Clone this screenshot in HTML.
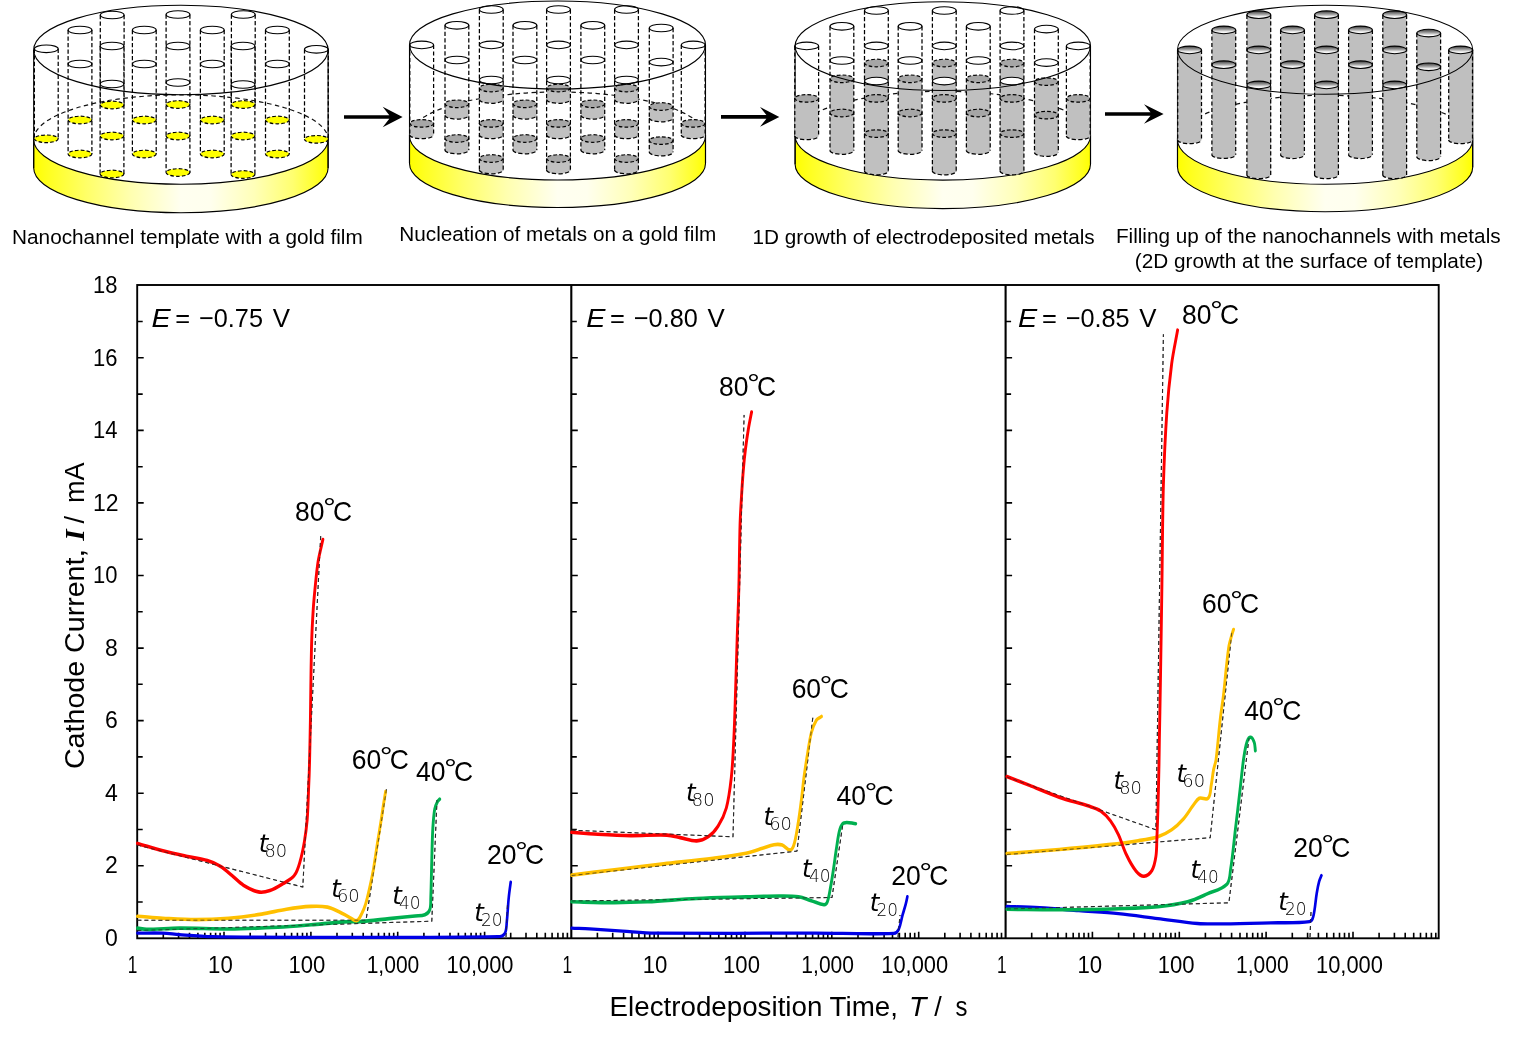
<!DOCTYPE html>
<html><head><meta charset="utf-8"><title>Electrodeposition in nanochannels</title>
<style>html,body{margin:0;padding:0;background:#fff;} svg{display:block;}</style>
</head><body>
<svg width="1519" height="1039" viewBox="0 0 1519 1039" font-family="'Liberation Sans', 'IPAGothic', sans-serif">
<defs>
<linearGradient id="goldg" x1="0" y1="0" x2="1" y2="0">
<stop offset="0" stop-color="#ffff00"/><stop offset="0.05" stop-color="#ffff20"/><stop offset="0.18" stop-color="#ffff68"/><stop offset="0.33" stop-color="#ffffb0"/><stop offset="0.5" stop-color="#fffff0"/><stop offset="0.6" stop-color="#ffffee"/><stop offset="0.75" stop-color="#ffffb8"/><stop offset="0.88" stop-color="#ffff70"/><stop offset="0.97" stop-color="#ffff20"/><stop offset="1" stop-color="#ffff00"/>
</linearGradient>
<linearGradient id="capg" x1="0" y1="0" x2="0" y2="1">
<stop offset="0" stop-color="#3a3a3a"/><stop offset="0.45" stop-color="#a0a0a0"/><stop offset="0.8" stop-color="#ffffff"/><stop offset="1" stop-color="#d8d8d8"/>
</linearGradient>
</defs>
<rect width="1519" height="1039" fill="#fff"/>
<path d="M33.70,139.50 A147.20,44.70 0 0 0 328.10,139.50 L328.10,168.00 A147.20,44.70 0 0 1 33.70,168.00 Z" fill="url(#goldg)" stroke="#000" stroke-width="1.1"/>
<path d="M33.70,139.50 A147.20,44.70 0 0 1 328.10,139.50" fill="none" stroke="#111" stroke-width="1.2" stroke-dasharray="4.5 3.5"/>
<path d="M33.70,50.00 V168.00 M328.10,50.00 V168.00" stroke="#000" stroke-width="1.1" fill="none"/>
<ellipse cx="178.00" cy="104.50" rx="11.9" ry="3.8" fill="#ffff00" stroke="#000" stroke-width="1.2" stroke-dasharray="3.6 2.1"/>
<ellipse cx="178.00" cy="14.50" rx="11.9" ry="3.8" fill="#fff" stroke="#000" stroke-width="1.1"/>
<ellipse cx="243.30" cy="104.50" rx="11.9" ry="3.8" fill="#ffff00" stroke="#000" stroke-width="1.2" stroke-dasharray="3.6 2.1"/>
<ellipse cx="243.30" cy="14.50" rx="11.9" ry="3.8" fill="#fff" stroke="#000" stroke-width="1.1"/>
<ellipse cx="112.20" cy="105.00" rx="11.9" ry="3.8" fill="#ffff00" stroke="#000" stroke-width="1.2" stroke-dasharray="3.6 2.1"/>
<ellipse cx="112.20" cy="15.00" rx="11.9" ry="3.8" fill="#fff" stroke="#000" stroke-width="1.1"/>
<ellipse cx="80.00" cy="120.00" rx="11.9" ry="3.8" fill="#ffff00" stroke="#000" stroke-width="1.2" stroke-dasharray="3.6 2.1"/>
<ellipse cx="80.00" cy="30.00" rx="11.9" ry="3.8" fill="#fff" stroke="#000" stroke-width="1.1"/>
<ellipse cx="144.30" cy="120.00" rx="11.9" ry="3.8" fill="#ffff00" stroke="#000" stroke-width="1.2" stroke-dasharray="3.6 2.1"/>
<ellipse cx="144.30" cy="30.00" rx="11.9" ry="3.8" fill="#fff" stroke="#000" stroke-width="1.1"/>
<ellipse cx="212.30" cy="120.00" rx="11.9" ry="3.8" fill="#ffff00" stroke="#000" stroke-width="1.2" stroke-dasharray="3.6 2.1"/>
<ellipse cx="212.30" cy="30.00" rx="11.9" ry="3.8" fill="#fff" stroke="#000" stroke-width="1.1"/>
<ellipse cx="277.40" cy="120.00" rx="11.9" ry="3.8" fill="#ffff00" stroke="#000" stroke-width="1.2" stroke-dasharray="3.6 2.1"/>
<ellipse cx="277.40" cy="30.00" rx="11.9" ry="3.8" fill="#fff" stroke="#000" stroke-width="1.1"/>
<ellipse cx="112.00" cy="136.00" rx="11.9" ry="3.8" fill="#ffff00" stroke="#000" stroke-width="1.2" stroke-dasharray="3.6 2.1"/>
<ellipse cx="112.00" cy="46.00" rx="11.9" ry="3.8" fill="#fff" stroke="#000" stroke-width="1.1"/>
<ellipse cx="178.00" cy="136.00" rx="11.9" ry="3.8" fill="#ffff00" stroke="#000" stroke-width="1.2" stroke-dasharray="3.6 2.1"/>
<ellipse cx="178.00" cy="46.00" rx="11.9" ry="3.8" fill="#fff" stroke="#000" stroke-width="1.1"/>
<ellipse cx="243.00" cy="136.00" rx="11.9" ry="3.8" fill="#ffff00" stroke="#000" stroke-width="1.2" stroke-dasharray="3.6 2.1"/>
<ellipse cx="243.00" cy="46.00" rx="11.9" ry="3.8" fill="#fff" stroke="#000" stroke-width="1.1"/>
<ellipse cx="46.30" cy="138.80" rx="11.9" ry="3.8" fill="#ffff00" stroke="#000" stroke-width="1.2" stroke-dasharray="3.6 2.1"/>
<ellipse cx="46.30" cy="48.80" rx="11.9" ry="3.8" fill="#fff" stroke="#000" stroke-width="1.1"/>
<ellipse cx="316.40" cy="139.30" rx="11.9" ry="3.8" fill="#ffff00" stroke="#000" stroke-width="1.2" stroke-dasharray="3.6 2.1"/>
<ellipse cx="316.40" cy="49.30" rx="11.9" ry="3.8" fill="#fff" stroke="#000" stroke-width="1.1"/>
<ellipse cx="80.00" cy="154.00" rx="11.9" ry="3.8" fill="#ffff00" stroke="#000" stroke-width="1.2" stroke-dasharray="3.6 2.1"/>
<ellipse cx="80.00" cy="64.00" rx="11.9" ry="3.8" fill="#fff" stroke="#000" stroke-width="1.1"/>
<ellipse cx="144.30" cy="154.00" rx="11.9" ry="3.8" fill="#ffff00" stroke="#000" stroke-width="1.2" stroke-dasharray="3.6 2.1"/>
<ellipse cx="144.30" cy="64.00" rx="11.9" ry="3.8" fill="#fff" stroke="#000" stroke-width="1.1"/>
<ellipse cx="212.30" cy="154.00" rx="11.9" ry="3.8" fill="#ffff00" stroke="#000" stroke-width="1.2" stroke-dasharray="3.6 2.1"/>
<ellipse cx="212.30" cy="64.00" rx="11.9" ry="3.8" fill="#fff" stroke="#000" stroke-width="1.1"/>
<ellipse cx="277.40" cy="154.00" rx="11.9" ry="3.8" fill="#ffff00" stroke="#000" stroke-width="1.2" stroke-dasharray="3.6 2.1"/>
<ellipse cx="277.40" cy="64.00" rx="11.9" ry="3.8" fill="#fff" stroke="#000" stroke-width="1.1"/>
<ellipse cx="178.00" cy="172.50" rx="11.9" ry="3.8" fill="#ffff00" stroke="#000" stroke-width="1.2" stroke-dasharray="3.6 2.1"/>
<ellipse cx="178.00" cy="82.50" rx="11.9" ry="3.8" fill="#fff" stroke="#000" stroke-width="1.1"/>
<ellipse cx="112.00" cy="174.00" rx="11.9" ry="3.8" fill="#ffff00" stroke="#000" stroke-width="1.2" stroke-dasharray="3.6 2.1"/>
<ellipse cx="112.00" cy="84.00" rx="11.9" ry="3.8" fill="#fff" stroke="#000" stroke-width="1.1"/>
<ellipse cx="243.00" cy="174.50" rx="11.9" ry="3.8" fill="#ffff00" stroke="#000" stroke-width="1.2" stroke-dasharray="3.6 2.1"/>
<ellipse cx="243.00" cy="84.50" rx="11.9" ry="3.8" fill="#fff" stroke="#000" stroke-width="1.1"/>
<path d="M100.30,15.00 V105.00 M124.10,15.00 V105.00 M166.10,14.50 V172.50 M189.90,14.50 V172.50 M231.40,14.50 V104.50 M255.20,14.50 V104.50 M68.10,30.00 V154.00 M91.90,30.00 V154.00 M132.40,30.00 V154.00 M156.20,30.00 V154.00 M200.40,30.00 V154.00 M224.20,30.00 V154.00 M265.50,30.00 V154.00 M289.30,30.00 V154.00 M34.40,48.80 V138.80 M58.20,48.80 V138.80 M100.10,46.00 V174.00 M123.90,46.00 V174.00 M231.10,46.00 V174.50 M254.90,46.00 V174.50 M304.50,49.30 V139.30 M328.30,49.30 V139.30" stroke="#000" stroke-width="1.25" stroke-dasharray="4.2 2.3" fill="none"/>
<ellipse cx="180.90" cy="50.00" rx="147.20" ry="44.70" fill="none" stroke="#000" stroke-width="1.1"/>
<path d="M409.50,136.00 A148.00,44.00 0 0 0 705.50,136.00 L705.50,163.50 A148.00,44.00 0 0 1 409.50,163.50 Z" fill="url(#goldg)" stroke="#000" stroke-width="1.1"/>
<path d="M409.50,136.00 A148.00,44.00 0 0 1 705.50,136.00" fill="none" stroke="#111" stroke-width="1.2" stroke-dasharray="4.5 3.5"/>
<path d="M409.50,45.00 V163.50 M705.50,45.00 V163.50" stroke="#000" stroke-width="1.1" fill="none"/>
<path d="M479.40,88.00 V99.50 A11.9,3.8 0 0 0 503.20,99.50 V88.00 Z" fill="#c0c0c0" stroke="none"/>
<path d="M479.40,99.50 A11.9,3.8 0 0 0 503.20,99.50" stroke="#000" stroke-width="1.25" stroke-dasharray="4.2 2.3" fill="none"/>
<ellipse cx="491.30" cy="88.00" rx="11.9" ry="3.8" fill="#a6a6a6" stroke="#000" stroke-width="1.2" stroke-dasharray="3.6 2.1"/>
<ellipse cx="491.30" cy="9.50" rx="11.9" ry="3.8" fill="#fff" stroke="#000" stroke-width="1.1"/>
<path d="M546.60,88.00 V99.50 A11.9,3.8 0 0 0 570.40,99.50 V88.00 Z" fill="#c0c0c0" stroke="none"/>
<path d="M546.60,99.50 A11.9,3.8 0 0 0 570.40,99.50" stroke="#000" stroke-width="1.25" stroke-dasharray="4.2 2.3" fill="none"/>
<ellipse cx="558.50" cy="88.00" rx="11.9" ry="3.8" fill="#a6a6a6" stroke="#000" stroke-width="1.2" stroke-dasharray="3.6 2.1"/>
<ellipse cx="558.50" cy="9.50" rx="11.9" ry="3.8" fill="#fff" stroke="#000" stroke-width="1.1"/>
<path d="M614.60,88.00 V99.50 A11.9,3.8 0 0 0 638.40,99.50 V88.00 Z" fill="#c0c0c0" stroke="none"/>
<path d="M614.60,99.50 A11.9,3.8 0 0 0 638.40,99.50" stroke="#000" stroke-width="1.25" stroke-dasharray="4.2 2.3" fill="none"/>
<ellipse cx="626.50" cy="88.00" rx="11.9" ry="3.8" fill="#a6a6a6" stroke="#000" stroke-width="1.2" stroke-dasharray="3.6 2.1"/>
<ellipse cx="626.50" cy="9.50" rx="11.9" ry="3.8" fill="#fff" stroke="#000" stroke-width="1.1"/>
<path d="M445.00,103.80 V115.30 A11.9,3.8 0 0 0 468.80,115.30 V103.80 Z" fill="#c0c0c0" stroke="none"/>
<path d="M445.00,115.30 A11.9,3.8 0 0 0 468.80,115.30" stroke="#000" stroke-width="1.25" stroke-dasharray="4.2 2.3" fill="none"/>
<ellipse cx="456.90" cy="103.80" rx="11.9" ry="3.8" fill="#a6a6a6" stroke="#000" stroke-width="1.2" stroke-dasharray="3.6 2.1"/>
<ellipse cx="456.90" cy="25.30" rx="11.9" ry="3.8" fill="#fff" stroke="#000" stroke-width="1.1"/>
<path d="M513.00,103.80 V115.30 A11.9,3.8 0 0 0 536.80,115.30 V103.80 Z" fill="#c0c0c0" stroke="none"/>
<path d="M513.00,115.30 A11.9,3.8 0 0 0 536.80,115.30" stroke="#000" stroke-width="1.25" stroke-dasharray="4.2 2.3" fill="none"/>
<ellipse cx="524.90" cy="103.80" rx="11.9" ry="3.8" fill="#a6a6a6" stroke="#000" stroke-width="1.2" stroke-dasharray="3.6 2.1"/>
<ellipse cx="524.90" cy="25.30" rx="11.9" ry="3.8" fill="#fff" stroke="#000" stroke-width="1.1"/>
<path d="M580.90,103.80 V115.30 A11.9,3.8 0 0 0 604.70,115.30 V103.80 Z" fill="#c0c0c0" stroke="none"/>
<path d="M580.90,115.30 A11.9,3.8 0 0 0 604.70,115.30" stroke="#000" stroke-width="1.25" stroke-dasharray="4.2 2.3" fill="none"/>
<ellipse cx="592.80" cy="103.80" rx="11.9" ry="3.8" fill="#a6a6a6" stroke="#000" stroke-width="1.2" stroke-dasharray="3.6 2.1"/>
<ellipse cx="592.80" cy="25.30" rx="11.9" ry="3.8" fill="#fff" stroke="#000" stroke-width="1.1"/>
<path d="M649.30,106.50 V118.00 A11.9,3.8 0 0 0 673.10,118.00 V106.50 Z" fill="#c0c0c0" stroke="none"/>
<path d="M649.30,118.00 A11.9,3.8 0 0 0 673.10,118.00" stroke="#000" stroke-width="1.25" stroke-dasharray="4.2 2.3" fill="none"/>
<ellipse cx="661.20" cy="106.50" rx="11.9" ry="3.8" fill="#a6a6a6" stroke="#000" stroke-width="1.2" stroke-dasharray="3.6 2.1"/>
<ellipse cx="661.20" cy="28.00" rx="11.9" ry="3.8" fill="#fff" stroke="#000" stroke-width="1.1"/>
<path d="M409.80,123.40 V134.90 A11.9,3.8 0 0 0 433.60,134.90 V123.40 Z" fill="#c0c0c0" stroke="none"/>
<path d="M409.80,134.90 A11.9,3.8 0 0 0 433.60,134.90" stroke="#000" stroke-width="1.25" stroke-dasharray="4.2 2.3" fill="none"/>
<ellipse cx="421.70" cy="123.40" rx="11.9" ry="3.8" fill="#a6a6a6" stroke="#000" stroke-width="1.2" stroke-dasharray="3.6 2.1"/>
<ellipse cx="421.70" cy="44.90" rx="11.9" ry="3.8" fill="#fff" stroke="#000" stroke-width="1.1"/>
<path d="M479.40,123.40 V134.90 A11.9,3.8 0 0 0 503.20,134.90 V123.40 Z" fill="#c0c0c0" stroke="none"/>
<path d="M479.40,134.90 A11.9,3.8 0 0 0 503.20,134.90" stroke="#000" stroke-width="1.25" stroke-dasharray="4.2 2.3" fill="none"/>
<ellipse cx="491.30" cy="123.40" rx="11.9" ry="3.8" fill="#a6a6a6" stroke="#000" stroke-width="1.2" stroke-dasharray="3.6 2.1"/>
<ellipse cx="491.30" cy="44.90" rx="11.9" ry="3.8" fill="#fff" stroke="#000" stroke-width="1.1"/>
<path d="M546.60,123.40 V134.90 A11.9,3.8 0 0 0 570.40,134.90 V123.40 Z" fill="#c0c0c0" stroke="none"/>
<path d="M546.60,134.90 A11.9,3.8 0 0 0 570.40,134.90" stroke="#000" stroke-width="1.25" stroke-dasharray="4.2 2.3" fill="none"/>
<ellipse cx="558.50" cy="123.40" rx="11.9" ry="3.8" fill="#a6a6a6" stroke="#000" stroke-width="1.2" stroke-dasharray="3.6 2.1"/>
<ellipse cx="558.50" cy="44.90" rx="11.9" ry="3.8" fill="#fff" stroke="#000" stroke-width="1.1"/>
<path d="M614.60,123.40 V134.90 A11.9,3.8 0 0 0 638.40,134.90 V123.40 Z" fill="#c0c0c0" stroke="none"/>
<path d="M614.60,134.90 A11.9,3.8 0 0 0 638.40,134.90" stroke="#000" stroke-width="1.25" stroke-dasharray="4.2 2.3" fill="none"/>
<ellipse cx="626.50" cy="123.40" rx="11.9" ry="3.8" fill="#a6a6a6" stroke="#000" stroke-width="1.2" stroke-dasharray="3.6 2.1"/>
<ellipse cx="626.50" cy="44.90" rx="11.9" ry="3.8" fill="#fff" stroke="#000" stroke-width="1.1"/>
<path d="M681.30,123.40 V134.90 A11.9,3.8 0 0 0 705.10,134.90 V123.40 Z" fill="#c0c0c0" stroke="none"/>
<path d="M681.30,134.90 A11.9,3.8 0 0 0 705.10,134.90" stroke="#000" stroke-width="1.25" stroke-dasharray="4.2 2.3" fill="none"/>
<ellipse cx="693.20" cy="123.40" rx="11.9" ry="3.8" fill="#a6a6a6" stroke="#000" stroke-width="1.2" stroke-dasharray="3.6 2.1"/>
<ellipse cx="693.20" cy="44.90" rx="11.9" ry="3.8" fill="#fff" stroke="#000" stroke-width="1.1"/>
<path d="M445.00,138.50 V150.00 A11.9,3.8 0 0 0 468.80,150.00 V138.50 Z" fill="#c0c0c0" stroke="none"/>
<path d="M445.00,150.00 A11.9,3.8 0 0 0 468.80,150.00" stroke="#000" stroke-width="1.25" stroke-dasharray="4.2 2.3" fill="none"/>
<ellipse cx="456.90" cy="138.50" rx="11.9" ry="3.8" fill="#a6a6a6" stroke="#000" stroke-width="1.2" stroke-dasharray="3.6 2.1"/>
<ellipse cx="456.90" cy="60.00" rx="11.9" ry="3.8" fill="#fff" stroke="#000" stroke-width="1.1"/>
<path d="M513.00,138.50 V150.00 A11.9,3.8 0 0 0 536.80,150.00 V138.50 Z" fill="#c0c0c0" stroke="none"/>
<path d="M513.00,150.00 A11.9,3.8 0 0 0 536.80,150.00" stroke="#000" stroke-width="1.25" stroke-dasharray="4.2 2.3" fill="none"/>
<ellipse cx="524.90" cy="138.50" rx="11.9" ry="3.8" fill="#a6a6a6" stroke="#000" stroke-width="1.2" stroke-dasharray="3.6 2.1"/>
<ellipse cx="524.90" cy="60.00" rx="11.9" ry="3.8" fill="#fff" stroke="#000" stroke-width="1.1"/>
<path d="M580.90,138.50 V150.00 A11.9,3.8 0 0 0 604.70,150.00 V138.50 Z" fill="#c0c0c0" stroke="none"/>
<path d="M580.90,150.00 A11.9,3.8 0 0 0 604.70,150.00" stroke="#000" stroke-width="1.25" stroke-dasharray="4.2 2.3" fill="none"/>
<ellipse cx="592.80" cy="138.50" rx="11.9" ry="3.8" fill="#a6a6a6" stroke="#000" stroke-width="1.2" stroke-dasharray="3.6 2.1"/>
<ellipse cx="592.80" cy="60.00" rx="11.9" ry="3.8" fill="#fff" stroke="#000" stroke-width="1.1"/>
<path d="M649.30,140.60 V152.10 A11.9,3.8 0 0 0 673.10,152.10 V140.60 Z" fill="#c0c0c0" stroke="none"/>
<path d="M649.30,152.10 A11.9,3.8 0 0 0 673.10,152.10" stroke="#000" stroke-width="1.25" stroke-dasharray="4.2 2.3" fill="none"/>
<ellipse cx="661.20" cy="140.60" rx="11.9" ry="3.8" fill="#a6a6a6" stroke="#000" stroke-width="1.2" stroke-dasharray="3.6 2.1"/>
<ellipse cx="661.20" cy="62.10" rx="11.9" ry="3.8" fill="#fff" stroke="#000" stroke-width="1.1"/>
<path d="M479.40,158.50 V170.00 A11.9,3.8 0 0 0 503.20,170.00 V158.50 Z" fill="#c0c0c0" stroke="none"/>
<path d="M479.40,170.00 A11.9,3.8 0 0 0 503.20,170.00" stroke="#000" stroke-width="1.25" stroke-dasharray="4.2 2.3" fill="none"/>
<ellipse cx="491.30" cy="158.50" rx="11.9" ry="3.8" fill="#a6a6a6" stroke="#000" stroke-width="1.2" stroke-dasharray="3.6 2.1"/>
<ellipse cx="491.30" cy="80.00" rx="11.9" ry="3.8" fill="#fff" stroke="#000" stroke-width="1.1"/>
<path d="M546.60,158.50 V170.00 A11.9,3.8 0 0 0 570.40,170.00 V158.50 Z" fill="#c0c0c0" stroke="none"/>
<path d="M546.60,170.00 A11.9,3.8 0 0 0 570.40,170.00" stroke="#000" stroke-width="1.25" stroke-dasharray="4.2 2.3" fill="none"/>
<ellipse cx="558.50" cy="158.50" rx="11.9" ry="3.8" fill="#a6a6a6" stroke="#000" stroke-width="1.2" stroke-dasharray="3.6 2.1"/>
<ellipse cx="558.50" cy="80.00" rx="11.9" ry="3.8" fill="#fff" stroke="#000" stroke-width="1.1"/>
<path d="M614.60,158.50 V170.00 A11.9,3.8 0 0 0 638.40,170.00 V158.50 Z" fill="#c0c0c0" stroke="none"/>
<path d="M614.60,170.00 A11.9,3.8 0 0 0 638.40,170.00" stroke="#000" stroke-width="1.25" stroke-dasharray="4.2 2.3" fill="none"/>
<ellipse cx="626.50" cy="158.50" rx="11.9" ry="3.8" fill="#a6a6a6" stroke="#000" stroke-width="1.2" stroke-dasharray="3.6 2.1"/>
<ellipse cx="626.50" cy="80.00" rx="11.9" ry="3.8" fill="#fff" stroke="#000" stroke-width="1.1"/>
<path d="M479.40,9.50 V170.00 M503.20,9.50 V170.00 M546.60,9.50 V170.00 M570.40,9.50 V170.00 M614.60,9.50 V170.00 M638.40,9.50 V170.00 M445.00,25.30 V150.00 M468.80,25.30 V150.00 M513.00,25.30 V150.00 M536.80,25.30 V150.00 M580.90,25.30 V150.00 M604.70,25.30 V150.00 M649.30,28.00 V152.10 M673.10,28.00 V152.10 M409.80,44.90 V134.90 M433.60,44.90 V134.90 M681.30,44.90 V134.90 M705.10,44.90 V134.90" stroke="#000" stroke-width="1.25" stroke-dasharray="4.2 2.3" fill="none"/>
<ellipse cx="557.50" cy="45.00" rx="148.00" ry="44.00" fill="none" stroke="#000" stroke-width="1.1"/>
<path d="M795.10,135.70 A147.70,44.40 0 0 0 1090.50,135.70 L1090.50,164.20 A147.70,44.40 0 0 1 795.10,164.20 Z" fill="url(#goldg)" stroke="#000" stroke-width="1.1"/>
<path d="M795.10,135.70 A147.70,44.40 0 0 1 1090.50,135.70" fill="none" stroke="#111" stroke-width="1.2" stroke-dasharray="4.5 3.5"/>
<path d="M795.10,46.10 V164.20 M1090.50,46.10 V164.20" stroke="#000" stroke-width="1.1" fill="none"/>
<path d="M864.50,63.00 V100.50 A11.9,3.8 0 0 0 888.30,100.50 V63.00 Z" fill="#c0c0c0" stroke="none"/>
<path d="M864.50,100.50 A11.9,3.8 0 0 0 888.30,100.50" stroke="#000" stroke-width="1.25" stroke-dasharray="4.2 2.3" fill="none"/>
<ellipse cx="876.40" cy="63.00" rx="11.9" ry="3.8" fill="#a6a6a6" stroke="#000" stroke-width="1.2" stroke-dasharray="3.6 2.1"/>
<ellipse cx="876.40" cy="10.50" rx="11.9" ry="3.8" fill="#fff" stroke="#000" stroke-width="1.1"/>
<path d="M932.40,63.00 V100.50 A11.9,3.8 0 0 0 956.20,100.50 V63.00 Z" fill="#c0c0c0" stroke="none"/>
<path d="M932.40,100.50 A11.9,3.8 0 0 0 956.20,100.50" stroke="#000" stroke-width="1.25" stroke-dasharray="4.2 2.3" fill="none"/>
<ellipse cx="944.30" cy="63.00" rx="11.9" ry="3.8" fill="#a6a6a6" stroke="#000" stroke-width="1.2" stroke-dasharray="3.6 2.1"/>
<ellipse cx="944.30" cy="10.50" rx="11.9" ry="3.8" fill="#fff" stroke="#000" stroke-width="1.1"/>
<path d="M1000.10,63.00 V100.50 A11.9,3.8 0 0 0 1023.90,100.50 V63.00 Z" fill="#c0c0c0" stroke="none"/>
<path d="M1000.10,100.50 A11.9,3.8 0 0 0 1023.90,100.50" stroke="#000" stroke-width="1.25" stroke-dasharray="4.2 2.3" fill="none"/>
<ellipse cx="1012.00" cy="63.00" rx="11.9" ry="3.8" fill="#a6a6a6" stroke="#000" stroke-width="1.2" stroke-dasharray="3.6 2.1"/>
<ellipse cx="1012.00" cy="10.50" rx="11.9" ry="3.8" fill="#fff" stroke="#000" stroke-width="1.1"/>
<path d="M830.00,78.80 V116.30 A11.9,3.8 0 0 0 853.80,116.30 V78.80 Z" fill="#c0c0c0" stroke="none"/>
<path d="M830.00,116.30 A11.9,3.8 0 0 0 853.80,116.30" stroke="#000" stroke-width="1.25" stroke-dasharray="4.2 2.3" fill="none"/>
<ellipse cx="841.90" cy="78.80" rx="11.9" ry="3.8" fill="#a6a6a6" stroke="#000" stroke-width="1.2" stroke-dasharray="3.6 2.1"/>
<ellipse cx="841.90" cy="26.30" rx="11.9" ry="3.8" fill="#fff" stroke="#000" stroke-width="1.1"/>
<path d="M898.20,78.80 V116.30 A11.9,3.8 0 0 0 922.00,116.30 V78.80 Z" fill="#c0c0c0" stroke="none"/>
<path d="M898.20,116.30 A11.9,3.8 0 0 0 922.00,116.30" stroke="#000" stroke-width="1.25" stroke-dasharray="4.2 2.3" fill="none"/>
<ellipse cx="910.10" cy="78.80" rx="11.9" ry="3.8" fill="#a6a6a6" stroke="#000" stroke-width="1.2" stroke-dasharray="3.6 2.1"/>
<ellipse cx="910.10" cy="26.30" rx="11.9" ry="3.8" fill="#fff" stroke="#000" stroke-width="1.1"/>
<path d="M966.40,78.80 V116.30 A11.9,3.8 0 0 0 990.20,116.30 V78.80 Z" fill="#c0c0c0" stroke="none"/>
<path d="M966.40,116.30 A11.9,3.8 0 0 0 990.20,116.30" stroke="#000" stroke-width="1.25" stroke-dasharray="4.2 2.3" fill="none"/>
<ellipse cx="978.30" cy="78.80" rx="11.9" ry="3.8" fill="#a6a6a6" stroke="#000" stroke-width="1.2" stroke-dasharray="3.6 2.1"/>
<ellipse cx="978.30" cy="26.30" rx="11.9" ry="3.8" fill="#fff" stroke="#000" stroke-width="1.1"/>
<path d="M1034.50,81.60 V119.10 A11.9,3.8 0 0 0 1058.30,119.10 V81.60 Z" fill="#c0c0c0" stroke="none"/>
<path d="M1034.50,119.10 A11.9,3.8 0 0 0 1058.30,119.10" stroke="#000" stroke-width="1.25" stroke-dasharray="4.2 2.3" fill="none"/>
<ellipse cx="1046.40" cy="81.60" rx="11.9" ry="3.8" fill="#a6a6a6" stroke="#000" stroke-width="1.2" stroke-dasharray="3.6 2.1"/>
<ellipse cx="1046.40" cy="29.10" rx="11.9" ry="3.8" fill="#fff" stroke="#000" stroke-width="1.1"/>
<path d="M794.80,98.40 V135.90 A11.9,3.8 0 0 0 818.60,135.90 V98.40 Z" fill="#c0c0c0" stroke="none"/>
<path d="M794.80,135.90 A11.9,3.8 0 0 0 818.60,135.90" stroke="#000" stroke-width="1.25" stroke-dasharray="4.2 2.3" fill="none"/>
<ellipse cx="806.70" cy="98.40" rx="11.9" ry="3.8" fill="#a6a6a6" stroke="#000" stroke-width="1.2" stroke-dasharray="3.6 2.1"/>
<ellipse cx="806.70" cy="45.90" rx="11.9" ry="3.8" fill="#fff" stroke="#000" stroke-width="1.1"/>
<path d="M864.50,98.40 V135.90 A11.9,3.8 0 0 0 888.30,135.90 V98.40 Z" fill="#c0c0c0" stroke="none"/>
<path d="M864.50,135.90 A11.9,3.8 0 0 0 888.30,135.90" stroke="#000" stroke-width="1.25" stroke-dasharray="4.2 2.3" fill="none"/>
<ellipse cx="876.40" cy="98.40" rx="11.9" ry="3.8" fill="#a6a6a6" stroke="#000" stroke-width="1.2" stroke-dasharray="3.6 2.1"/>
<ellipse cx="876.40" cy="45.90" rx="11.9" ry="3.8" fill="#fff" stroke="#000" stroke-width="1.1"/>
<path d="M932.40,98.40 V135.90 A11.9,3.8 0 0 0 956.20,135.90 V98.40 Z" fill="#c0c0c0" stroke="none"/>
<path d="M932.40,135.90 A11.9,3.8 0 0 0 956.20,135.90" stroke="#000" stroke-width="1.25" stroke-dasharray="4.2 2.3" fill="none"/>
<ellipse cx="944.30" cy="98.40" rx="11.9" ry="3.8" fill="#a6a6a6" stroke="#000" stroke-width="1.2" stroke-dasharray="3.6 2.1"/>
<ellipse cx="944.30" cy="45.90" rx="11.9" ry="3.8" fill="#fff" stroke="#000" stroke-width="1.1"/>
<path d="M1000.10,98.40 V135.90 A11.9,3.8 0 0 0 1023.90,135.90 V98.40 Z" fill="#c0c0c0" stroke="none"/>
<path d="M1000.10,135.90 A11.9,3.8 0 0 0 1023.90,135.90" stroke="#000" stroke-width="1.25" stroke-dasharray="4.2 2.3" fill="none"/>
<ellipse cx="1012.00" cy="98.40" rx="11.9" ry="3.8" fill="#a6a6a6" stroke="#000" stroke-width="1.2" stroke-dasharray="3.6 2.1"/>
<ellipse cx="1012.00" cy="45.90" rx="11.9" ry="3.8" fill="#fff" stroke="#000" stroke-width="1.1"/>
<path d="M1066.40,98.40 V135.90 A11.9,3.8 0 0 0 1090.20,135.90 V98.40 Z" fill="#c0c0c0" stroke="none"/>
<path d="M1066.40,135.90 A11.9,3.8 0 0 0 1090.20,135.90" stroke="#000" stroke-width="1.25" stroke-dasharray="4.2 2.3" fill="none"/>
<ellipse cx="1078.30" cy="98.40" rx="11.9" ry="3.8" fill="#a6a6a6" stroke="#000" stroke-width="1.2" stroke-dasharray="3.6 2.1"/>
<ellipse cx="1078.30" cy="45.90" rx="11.9" ry="3.8" fill="#fff" stroke="#000" stroke-width="1.1"/>
<path d="M830.00,113.00 V150.50 A11.9,3.8 0 0 0 853.80,150.50 V113.00 Z" fill="#c0c0c0" stroke="none"/>
<path d="M830.00,150.50 A11.9,3.8 0 0 0 853.80,150.50" stroke="#000" stroke-width="1.25" stroke-dasharray="4.2 2.3" fill="none"/>
<ellipse cx="841.90" cy="113.00" rx="11.9" ry="3.8" fill="#a6a6a6" stroke="#000" stroke-width="1.2" stroke-dasharray="3.6 2.1"/>
<ellipse cx="841.90" cy="60.50" rx="11.9" ry="3.8" fill="#fff" stroke="#000" stroke-width="1.1"/>
<path d="M898.20,113.00 V150.50 A11.9,3.8 0 0 0 922.00,150.50 V113.00 Z" fill="#c0c0c0" stroke="none"/>
<path d="M898.20,150.50 A11.9,3.8 0 0 0 922.00,150.50" stroke="#000" stroke-width="1.25" stroke-dasharray="4.2 2.3" fill="none"/>
<ellipse cx="910.10" cy="113.00" rx="11.9" ry="3.8" fill="#a6a6a6" stroke="#000" stroke-width="1.2" stroke-dasharray="3.6 2.1"/>
<ellipse cx="910.10" cy="60.50" rx="11.9" ry="3.8" fill="#fff" stroke="#000" stroke-width="1.1"/>
<path d="M966.40,113.00 V150.50 A11.9,3.8 0 0 0 990.20,150.50 V113.00 Z" fill="#c0c0c0" stroke="none"/>
<path d="M966.40,150.50 A11.9,3.8 0 0 0 990.20,150.50" stroke="#000" stroke-width="1.25" stroke-dasharray="4.2 2.3" fill="none"/>
<ellipse cx="978.30" cy="113.00" rx="11.9" ry="3.8" fill="#a6a6a6" stroke="#000" stroke-width="1.2" stroke-dasharray="3.6 2.1"/>
<ellipse cx="978.30" cy="60.50" rx="11.9" ry="3.8" fill="#fff" stroke="#000" stroke-width="1.1"/>
<path d="M1034.50,115.10 V152.60 A11.9,3.8 0 0 0 1058.30,152.60 V115.10 Z" fill="#c0c0c0" stroke="none"/>
<path d="M1034.50,152.60 A11.9,3.8 0 0 0 1058.30,152.60" stroke="#000" stroke-width="1.25" stroke-dasharray="4.2 2.3" fill="none"/>
<ellipse cx="1046.40" cy="115.10" rx="11.9" ry="3.8" fill="#a6a6a6" stroke="#000" stroke-width="1.2" stroke-dasharray="3.6 2.1"/>
<ellipse cx="1046.40" cy="62.60" rx="11.9" ry="3.8" fill="#fff" stroke="#000" stroke-width="1.1"/>
<path d="M864.50,133.60 V171.10 A11.9,3.8 0 0 0 888.30,171.10 V133.60 Z" fill="#c0c0c0" stroke="none"/>
<path d="M864.50,171.10 A11.9,3.8 0 0 0 888.30,171.10" stroke="#000" stroke-width="1.25" stroke-dasharray="4.2 2.3" fill="none"/>
<ellipse cx="876.40" cy="133.60" rx="11.9" ry="3.8" fill="#a6a6a6" stroke="#000" stroke-width="1.2" stroke-dasharray="3.6 2.1"/>
<ellipse cx="876.40" cy="81.10" rx="11.9" ry="3.8" fill="#fff" stroke="#000" stroke-width="1.1"/>
<path d="M932.40,133.60 V171.10 A11.9,3.8 0 0 0 956.20,171.10 V133.60 Z" fill="#c0c0c0" stroke="none"/>
<path d="M932.40,171.10 A11.9,3.8 0 0 0 956.20,171.10" stroke="#000" stroke-width="1.25" stroke-dasharray="4.2 2.3" fill="none"/>
<ellipse cx="944.30" cy="133.60" rx="11.9" ry="3.8" fill="#a6a6a6" stroke="#000" stroke-width="1.2" stroke-dasharray="3.6 2.1"/>
<ellipse cx="944.30" cy="81.10" rx="11.9" ry="3.8" fill="#fff" stroke="#000" stroke-width="1.1"/>
<path d="M1000.10,133.60 V171.10 A11.9,3.8 0 0 0 1023.90,171.10 V133.60 Z" fill="#c0c0c0" stroke="none"/>
<path d="M1000.10,171.10 A11.9,3.8 0 0 0 1023.90,171.10" stroke="#000" stroke-width="1.25" stroke-dasharray="4.2 2.3" fill="none"/>
<ellipse cx="1012.00" cy="133.60" rx="11.9" ry="3.8" fill="#a6a6a6" stroke="#000" stroke-width="1.2" stroke-dasharray="3.6 2.1"/>
<ellipse cx="1012.00" cy="81.10" rx="11.9" ry="3.8" fill="#fff" stroke="#000" stroke-width="1.1"/>
<path d="M864.50,10.50 V171.10 M888.30,10.50 V171.10 M932.40,10.50 V171.10 M956.20,10.50 V171.10 M1000.10,10.50 V171.10 M1023.90,10.50 V171.10 M830.00,26.30 V150.50 M853.80,26.30 V150.50 M898.20,26.30 V150.50 M922.00,26.30 V150.50 M966.40,26.30 V150.50 M990.20,26.30 V150.50 M1034.50,29.10 V152.60 M1058.30,29.10 V152.60 M794.80,45.90 V135.90 M818.60,45.90 V135.90 M1066.40,45.90 V135.90 M1090.20,45.90 V135.90" stroke="#000" stroke-width="1.25" stroke-dasharray="4.2 2.3" fill="none"/>
<ellipse cx="942.80" cy="46.10" rx="147.70" ry="44.40" fill="none" stroke="#000" stroke-width="1.1"/>
<path d="M1177.50,139.80 A147.60,44.50 0 0 0 1472.70,139.80 L1472.70,167.20 A147.60,44.50 0 0 1 1177.50,167.20 Z" fill="url(#goldg)" stroke="#000" stroke-width="1.1"/>
<path d="M1177.50,139.80 A147.60,44.50 0 0 1 1472.70,139.80" fill="none" stroke="#111" stroke-width="1.2" stroke-dasharray="4.5 3.5"/>
<path d="M1177.50,49.80 V167.20 M1472.70,49.80 V167.20" stroke="#000" stroke-width="1.1" fill="none"/>
<path d="M1246.90,14.70 V104.70 A11.9,3.8 0 0 0 1270.70,104.70 V14.70 Z" fill="#bfbfbf" stroke="none"/>
<path d="M1246.90,104.70 A11.9,3.8 0 0 0 1270.70,104.70" stroke="#000" stroke-width="1.25" stroke-dasharray="4.2 2.3" fill="none"/>
<ellipse cx="1258.80" cy="14.70" rx="11.9" ry="3.8" fill="url(#capg)" stroke="#000" stroke-width="1.1"/>
<path d="M1314.60,14.70 V104.70 A11.9,3.8 0 0 0 1338.40,104.70 V14.70 Z" fill="#bfbfbf" stroke="none"/>
<path d="M1314.60,104.70 A11.9,3.8 0 0 0 1338.40,104.70" stroke="#000" stroke-width="1.25" stroke-dasharray="4.2 2.3" fill="none"/>
<ellipse cx="1326.50" cy="14.70" rx="11.9" ry="3.8" fill="url(#capg)" stroke="#000" stroke-width="1.1"/>
<path d="M1382.80,14.70 V104.70 A11.9,3.8 0 0 0 1406.60,104.70 V14.70 Z" fill="#bfbfbf" stroke="none"/>
<path d="M1382.80,104.70 A11.9,3.8 0 0 0 1406.60,104.70" stroke="#000" stroke-width="1.25" stroke-dasharray="4.2 2.3" fill="none"/>
<ellipse cx="1394.70" cy="14.70" rx="11.9" ry="3.8" fill="url(#capg)" stroke="#000" stroke-width="1.1"/>
<path d="M1211.90,29.90 V119.90 A11.9,3.8 0 0 0 1235.70,119.90 V29.90 Z" fill="#bfbfbf" stroke="none"/>
<path d="M1211.90,119.90 A11.9,3.8 0 0 0 1235.70,119.90" stroke="#000" stroke-width="1.25" stroke-dasharray="4.2 2.3" fill="none"/>
<ellipse cx="1223.80" cy="29.90" rx="11.9" ry="3.8" fill="url(#capg)" stroke="#000" stroke-width="1.1"/>
<path d="M1280.60,29.90 V119.90 A11.9,3.8 0 0 0 1304.40,119.90 V29.90 Z" fill="#bfbfbf" stroke="none"/>
<path d="M1280.60,119.90 A11.9,3.8 0 0 0 1304.40,119.90" stroke="#000" stroke-width="1.25" stroke-dasharray="4.2 2.3" fill="none"/>
<ellipse cx="1292.50" cy="29.90" rx="11.9" ry="3.8" fill="url(#capg)" stroke="#000" stroke-width="1.1"/>
<path d="M1348.60,29.90 V119.90 A11.9,3.8 0 0 0 1372.40,119.90 V29.90 Z" fill="#bfbfbf" stroke="none"/>
<path d="M1348.60,119.90 A11.9,3.8 0 0 0 1372.40,119.90" stroke="#000" stroke-width="1.25" stroke-dasharray="4.2 2.3" fill="none"/>
<ellipse cx="1360.50" cy="29.90" rx="11.9" ry="3.8" fill="url(#capg)" stroke="#000" stroke-width="1.1"/>
<path d="M1416.80,33.10 V123.10 A11.9,3.8 0 0 0 1440.60,123.10 V33.10 Z" fill="#bfbfbf" stroke="none"/>
<path d="M1416.80,123.10 A11.9,3.8 0 0 0 1440.60,123.10" stroke="#000" stroke-width="1.25" stroke-dasharray="4.2 2.3" fill="none"/>
<ellipse cx="1428.70" cy="33.10" rx="11.9" ry="3.8" fill="url(#capg)" stroke="#000" stroke-width="1.1"/>
<path d="M1177.70,49.90 V139.90 A11.9,3.8 0 0 0 1201.50,139.90 V49.90 Z" fill="#bfbfbf" stroke="none"/>
<path d="M1177.70,139.90 A11.9,3.8 0 0 0 1201.50,139.90" stroke="#000" stroke-width="1.25" stroke-dasharray="4.2 2.3" fill="none"/>
<ellipse cx="1189.60" cy="49.90" rx="11.9" ry="3.8" fill="url(#capg)" stroke="#000" stroke-width="1.1"/>
<path d="M1246.90,49.90 V139.90 A11.9,3.8 0 0 0 1270.70,139.90 V49.90 Z" fill="#bfbfbf" stroke="none"/>
<path d="M1246.90,139.90 A11.9,3.8 0 0 0 1270.70,139.90" stroke="#000" stroke-width="1.25" stroke-dasharray="4.2 2.3" fill="none"/>
<ellipse cx="1258.80" cy="49.90" rx="11.9" ry="3.8" fill="url(#capg)" stroke="#000" stroke-width="1.1"/>
<path d="M1314.60,49.90 V139.90 A11.9,3.8 0 0 0 1338.40,139.90 V49.90 Z" fill="#bfbfbf" stroke="none"/>
<path d="M1314.60,139.90 A11.9,3.8 0 0 0 1338.40,139.90" stroke="#000" stroke-width="1.25" stroke-dasharray="4.2 2.3" fill="none"/>
<ellipse cx="1326.50" cy="49.90" rx="11.9" ry="3.8" fill="url(#capg)" stroke="#000" stroke-width="1.1"/>
<path d="M1382.80,49.90 V139.90 A11.9,3.8 0 0 0 1406.60,139.90 V49.90 Z" fill="#bfbfbf" stroke="none"/>
<path d="M1382.80,139.90 A11.9,3.8 0 0 0 1406.60,139.90" stroke="#000" stroke-width="1.25" stroke-dasharray="4.2 2.3" fill="none"/>
<ellipse cx="1394.70" cy="49.90" rx="11.9" ry="3.8" fill="url(#capg)" stroke="#000" stroke-width="1.1"/>
<path d="M1448.70,49.90 V139.90 A11.9,3.8 0 0 0 1472.50,139.90 V49.90 Z" fill="#bfbfbf" stroke="none"/>
<path d="M1448.70,139.90 A11.9,3.8 0 0 0 1472.50,139.90" stroke="#000" stroke-width="1.25" stroke-dasharray="4.2 2.3" fill="none"/>
<ellipse cx="1460.60" cy="49.90" rx="11.9" ry="3.8" fill="url(#capg)" stroke="#000" stroke-width="1.1"/>
<path d="M1211.90,64.70 V154.70 A11.9,3.8 0 0 0 1235.70,154.70 V64.70 Z" fill="#bfbfbf" stroke="none"/>
<path d="M1211.90,154.70 A11.9,3.8 0 0 0 1235.70,154.70" stroke="#000" stroke-width="1.25" stroke-dasharray="4.2 2.3" fill="none"/>
<ellipse cx="1223.80" cy="64.70" rx="11.9" ry="3.8" fill="url(#capg)" stroke="#000" stroke-width="1.1"/>
<path d="M1280.60,64.70 V154.70 A11.9,3.8 0 0 0 1304.40,154.70 V64.70 Z" fill="#bfbfbf" stroke="none"/>
<path d="M1280.60,154.70 A11.9,3.8 0 0 0 1304.40,154.70" stroke="#000" stroke-width="1.25" stroke-dasharray="4.2 2.3" fill="none"/>
<ellipse cx="1292.50" cy="64.70" rx="11.9" ry="3.8" fill="url(#capg)" stroke="#000" stroke-width="1.1"/>
<path d="M1348.60,64.70 V154.70 A11.9,3.8 0 0 0 1372.40,154.70 V64.70 Z" fill="#bfbfbf" stroke="none"/>
<path d="M1348.60,154.70 A11.9,3.8 0 0 0 1372.40,154.70" stroke="#000" stroke-width="1.25" stroke-dasharray="4.2 2.3" fill="none"/>
<ellipse cx="1360.50" cy="64.70" rx="11.9" ry="3.8" fill="url(#capg)" stroke="#000" stroke-width="1.1"/>
<path d="M1416.80,66.80 V156.80 A11.9,3.8 0 0 0 1440.60,156.80 V66.80 Z" fill="#bfbfbf" stroke="none"/>
<path d="M1416.80,156.80 A11.9,3.8 0 0 0 1440.60,156.80" stroke="#000" stroke-width="1.25" stroke-dasharray="4.2 2.3" fill="none"/>
<ellipse cx="1428.70" cy="66.80" rx="11.9" ry="3.8" fill="url(#capg)" stroke="#000" stroke-width="1.1"/>
<path d="M1246.90,84.90 V174.90 A11.9,3.8 0 0 0 1270.70,174.90 V84.90 Z" fill="#bfbfbf" stroke="none"/>
<path d="M1246.90,174.90 A11.9,3.8 0 0 0 1270.70,174.90" stroke="#000" stroke-width="1.25" stroke-dasharray="4.2 2.3" fill="none"/>
<ellipse cx="1258.80" cy="84.90" rx="11.9" ry="3.8" fill="url(#capg)" stroke="#000" stroke-width="1.1"/>
<path d="M1314.60,84.90 V174.90 A11.9,3.8 0 0 0 1338.40,174.90 V84.90 Z" fill="#bfbfbf" stroke="none"/>
<path d="M1314.60,174.90 A11.9,3.8 0 0 0 1338.40,174.90" stroke="#000" stroke-width="1.25" stroke-dasharray="4.2 2.3" fill="none"/>
<ellipse cx="1326.50" cy="84.90" rx="11.9" ry="3.8" fill="url(#capg)" stroke="#000" stroke-width="1.1"/>
<path d="M1382.80,84.90 V174.90 A11.9,3.8 0 0 0 1406.60,174.90 V84.90 Z" fill="#bfbfbf" stroke="none"/>
<path d="M1382.80,174.90 A11.9,3.8 0 0 0 1406.60,174.90" stroke="#000" stroke-width="1.25" stroke-dasharray="4.2 2.3" fill="none"/>
<ellipse cx="1394.70" cy="84.90" rx="11.9" ry="3.8" fill="url(#capg)" stroke="#000" stroke-width="1.1"/>
<path d="M1246.90,14.70 V174.90 M1270.70,14.70 V174.90 M1314.60,14.70 V174.90 M1338.40,14.70 V174.90 M1382.80,14.70 V174.90 M1406.60,14.70 V174.90 M1211.90,29.90 V154.70 M1235.70,29.90 V154.70 M1280.60,29.90 V154.70 M1304.40,29.90 V154.70 M1348.60,29.90 V154.70 M1372.40,29.90 V154.70 M1416.80,33.10 V156.80 M1440.60,33.10 V156.80 M1177.70,49.90 V139.90 M1201.50,49.90 V139.90 M1448.70,49.90 V139.90 M1472.50,49.90 V139.90" stroke="#000" stroke-width="1.25" stroke-dasharray="4.2 2.3" fill="none"/>
<ellipse cx="1325.10" cy="49.80" rx="147.60" ry="44.50" fill="none" stroke="#000" stroke-width="1.1"/>
<path d="M344,115.15 L389.3,115.15 L382.7,106.8 L402.6,117 L382.7,127.2 L389.3,118.85 L344,118.85 Z" fill="#000"/>
<path d="M721,115.05000000000001 L766.4,115.05000000000001 L760,107.0 L779.3,116.9 L760,126.80000000000001 L766.4,118.75 L721,118.75 Z" fill="#000"/>
<path d="M1105,112.15 L1150.5,112.15 L1144,104.15 L1163.6,114 L1144,123.85 L1150.5,115.85 L1105,115.85 Z" fill="#000"/>
<rect x="137.2" y="285.0" width="1301.5" height="653.3" fill="none" stroke="#000" stroke-width="1.9"/>
<path d="M571.3,285.0 V938.3 M1005.6,285.0 V938.3" stroke="#000" stroke-width="2.1"/>
<path d="M137.2,902.0 h5.5 M137.2,865.7 h6.5 M137.2,829.5 h5.5 M137.2,793.2 h6.5 M137.2,756.9 h5.5 M137.2,720.6 h6.5 M137.2,684.3 h5.5 M137.2,648.1 h6.5 M137.2,611.8 h5.5 M137.2,575.5 h6.5 M137.2,539.2 h5.5 M137.2,502.9 h6.5 M137.2,466.7 h5.5 M137.2,430.4 h6.5 M137.2,394.1 h5.5 M137.2,357.8 h6.5 M137.2,321.5 h5.5 M571.3,902.0 h5.5 M571.3,865.7 h6.5 M571.3,829.5 h5.5 M571.3,793.2 h6.5 M571.3,756.9 h5.5 M571.3,720.6 h6.5 M571.3,684.3 h5.5 M571.3,648.1 h6.5 M571.3,611.8 h5.5 M571.3,575.5 h6.5 M571.3,539.2 h5.5 M571.3,502.9 h6.5 M571.3,466.7 h5.5 M571.3,430.4 h6.5 M571.3,394.1 h5.5 M571.3,357.8 h6.5 M571.3,321.5 h5.5 M1005.6,902.0 h5.5 M1005.6,865.7 h6.5 M1005.6,829.5 h5.5 M1005.6,793.2 h6.5 M1005.6,756.9 h5.5 M1005.6,720.6 h6.5 M1005.6,684.3 h5.5 M1005.6,648.1 h6.5 M1005.6,611.8 h5.5 M1005.6,575.5 h6.5 M1005.6,539.2 h5.5 M1005.6,502.9 h6.5 M1005.6,466.7 h5.5 M1005.6,430.4 h6.5 M1005.6,394.1 h5.5 M1005.6,357.8 h6.5 M1005.6,321.5 h5.5 M163.3,938.3 v-5.5 M178.6,938.3 v-5.5 M189.5,938.3 v-5.5 M197.9,938.3 v-5.5 M204.8,938.3 v-5.5 M210.6,938.3 v-5.5 M215.6,938.3 v-5.5 M220.1,938.3 v-5.5 M224.0,938.3 v-6.5 M250.2,938.3 v-5.5 M265.5,938.3 v-5.5 M276.3,938.3 v-5.5 M284.7,938.3 v-5.5 M291.6,938.3 v-5.5 M297.4,938.3 v-5.5 M302.5,938.3 v-5.5 M306.9,938.3 v-5.5 M310.9,938.3 v-6.5 M337.0,938.3 v-5.5 M352.3,938.3 v-5.5 M363.2,938.3 v-5.5 M371.6,938.3 v-5.5 M378.5,938.3 v-5.5 M384.3,938.3 v-5.5 M389.3,938.3 v-5.5 M393.7,938.3 v-5.5 M397.7,938.3 v-6.5 M423.9,938.3 v-5.5 M439.2,938.3 v-5.5 M450.0,938.3 v-5.5 M458.4,938.3 v-5.5 M465.3,938.3 v-5.5 M471.1,938.3 v-5.5 M476.1,938.3 v-5.5 M480.6,938.3 v-5.5 M484.6,938.3 v-6.5 M510.7,938.3 v-5.5 M526.0,938.3 v-5.5 M536.8,938.3 v-5.5 M545.3,938.3 v-5.5 M552.1,938.3 v-5.5 M557.9,938.3 v-5.5 M563.0,938.3 v-5.5 M567.4,938.3 v-5.5 M597.4,938.3 v-5.5 M612.7,938.3 v-5.5 M623.6,938.3 v-5.5 M632.0,938.3 v-5.5 M638.9,938.3 v-5.5 M644.7,938.3 v-5.5 M649.7,938.3 v-5.5 M654.2,938.3 v-5.5 M658.1,938.3 v-6.5 M684.3,938.3 v-5.5 M699.6,938.3 v-5.5 M710.4,938.3 v-5.5 M718.8,938.3 v-5.5 M725.7,938.3 v-5.5 M731.5,938.3 v-5.5 M736.6,938.3 v-5.5 M741.0,938.3 v-5.5 M745.0,938.3 v-6.5 M771.1,938.3 v-5.5 M786.4,938.3 v-5.5 M797.3,938.3 v-5.5 M805.7,938.3 v-5.5 M812.6,938.3 v-5.5 M818.4,938.3 v-5.5 M823.4,938.3 v-5.5 M827.8,938.3 v-5.5 M831.8,938.3 v-6.5 M858.0,938.3 v-5.5 M873.3,938.3 v-5.5 M884.1,938.3 v-5.5 M892.5,938.3 v-5.5 M899.4,938.3 v-5.5 M905.2,938.3 v-5.5 M910.2,938.3 v-5.5 M914.7,938.3 v-5.5 M918.7,938.3 v-6.5 M944.8,938.3 v-5.5 M960.1,938.3 v-5.5 M970.9,938.3 v-5.5 M979.4,938.3 v-5.5 M986.2,938.3 v-5.5 M992.0,938.3 v-5.5 M997.1,938.3 v-5.5 M1001.5,938.3 v-5.5 M1031.7,938.3 v-5.5 M1047.0,938.3 v-5.5 M1057.9,938.3 v-5.5 M1066.3,938.3 v-5.5 M1073.2,938.3 v-5.5 M1079.0,938.3 v-5.5 M1084.0,938.3 v-5.5 M1088.5,938.3 v-5.5 M1092.4,938.3 v-6.5 M1118.6,938.3 v-5.5 M1133.9,938.3 v-5.5 M1144.7,938.3 v-5.5 M1153.1,938.3 v-5.5 M1160.0,938.3 v-5.5 M1165.8,938.3 v-5.5 M1170.9,938.3 v-5.5 M1175.3,938.3 v-5.5 M1179.3,938.3 v-6.5 M1205.4,938.3 v-5.5 M1220.7,938.3 v-5.5 M1231.6,938.3 v-5.5 M1240.0,938.3 v-5.5 M1246.9,938.3 v-5.5 M1252.7,938.3 v-5.5 M1257.7,938.3 v-5.5 M1262.1,938.3 v-5.5 M1266.1,938.3 v-6.5 M1292.3,938.3 v-5.5 M1307.6,938.3 v-5.5 M1318.4,938.3 v-5.5 M1326.8,938.3 v-5.5 M1333.7,938.3 v-5.5 M1339.5,938.3 v-5.5 M1344.5,938.3 v-5.5 M1349.0,938.3 v-5.5 M1353.0,938.3 v-6.5 M1379.1,938.3 v-5.5 M1394.4,938.3 v-5.5 M1405.2,938.3 v-5.5 M1413.7,938.3 v-5.5 M1420.5,938.3 v-5.5 M1426.3,938.3 v-5.5 M1431.4,938.3 v-5.5 M1435.8,938.3 v-5.5" stroke="#000" stroke-width="1.6" fill="none"/>
<path d="M137.4,845 L302.8,887 L320.8,534" fill="none" stroke="#333" stroke-width="1.1" stroke-dasharray="4 3"/>
<path d="M137.4,920.2 L366,920.2 L386.5,789" fill="none" stroke="#333" stroke-width="1.1" stroke-dasharray="4 3"/>
<path d="M137.4,930.5 L431.8,921.2 L437,800" fill="none" stroke="#333" stroke-width="1.1" stroke-dasharray="4 3"/>
<path d="M571.6,830.2 L733,836.8 L744.1,414.9" fill="none" stroke="#333" stroke-width="1.1" stroke-dasharray="4 3"/>
<path d="M571.6,875.5 L797,851.1 L813,716" fill="none" stroke="#333" stroke-width="1.1" stroke-dasharray="4 3"/>
<path d="M571.6,901 L832,897.5 L843,823" fill="none" stroke="#333" stroke-width="1.1" stroke-dasharray="4 3"/>
<path d="M1006.9,777 L1155.9,829.8 L1163.4,334.2" fill="none" stroke="#333" stroke-width="1.1" stroke-dasharray="4 3"/>
<path d="M1006.9,854.5 L1210.2,837.7 L1232,630" fill="none" stroke="#333" stroke-width="1.1" stroke-dasharray="4 3"/>
<path d="M1006.9,909 L1228.9,902.8 L1249,738" fill="none" stroke="#333" stroke-width="1.1" stroke-dasharray="4 3"/>
<path d="M1310,937 L1311,912" fill="none" stroke="#333" stroke-width="1.1" stroke-dasharray="4 3"/>
<path d="M506,937 L507.5,905" fill="none" stroke="#333" stroke-width="1.1" stroke-dasharray="4 3"/>
<path d="M898,937 L900,915" fill="none" stroke="#333" stroke-width="1.1" stroke-dasharray="4 3"/>
<path transform="scale(0.8,1)" d="M171.8,933.1 C182.3,933.1 193.1,932.8 203.6,933.1 C210.4,933.3 217.4,934.3 224.2,934.7 C237.8,935.5 251.8,936.5 265.4,936.7 C301.5,937.3 338.8,937.3 375.0,937.3 C456.6,937.3 540.8,937.8 622.4,936.6 C625.4,936.6 629.2,935.8 631.0,933.4 C633.4,930.2 633.0,925.5 633.5,921.6 C634.6,913.8 634.9,905.7 635.9,897.9 C636.5,892.7 637.5,887.3 638.4,882.1" fill="none" stroke="#0000e6" stroke-width="3.3" stroke-linejoin="round" stroke-linecap="round"/>
<path transform="scale(0.8,1)" d="M714.5,928.1 C722.0,928.4 729.7,928.5 737.1,928.9 C750.7,929.5 764.7,930.4 778.2,931.1 C791.8,931.8 805.8,933.0 819.4,933.1 C885.2,933.6 953.0,933.1 1018.8,933.1 C1051.3,933.1 1084.9,934.5 1117.4,933.3 C1119.8,933.2 1122.2,931.3 1123.4,929.3 C1125.9,925.0 1126.6,919.7 1128.2,915.0 C1129.5,911.3 1131.0,907.6 1132.2,903.9 C1133.0,901.6 1133.6,899.1 1134.2,896.7" fill="none" stroke="#0000e6" stroke-width="3.3" stroke-linejoin="round" stroke-linecap="round"/>
<path transform="scale(0.8,1)" d="M1258.6,906.4 C1272.1,906.8 1285.9,907.1 1299.4,907.7 C1315.6,908.5 1332.4,909.7 1348.6,910.7 C1364.9,911.7 1381.7,912.4 1398.0,913.7 C1414.3,915.0 1431.1,917.0 1447.4,918.6 C1463.7,920.2 1480.4,922.5 1496.8,923.5 C1507.5,924.2 1518.7,923.9 1529.5,923.8 C1548.9,923.7 1568.9,923.2 1588.4,922.8 C1604.4,922.5 1621.0,923.4 1637.0,921.6 C1639.1,921.4 1640.9,918.9 1641.5,916.9 C1643.9,909.3 1644.3,901.1 1645.9,893.3 C1646.7,889.4 1647.6,885.3 1648.9,881.5 C1649.6,879.4 1650.8,877.5 1651.8,875.6" fill="none" stroke="#0000e6" stroke-width="3.3" stroke-linejoin="round" stroke-linecap="round"/>
<path transform="scale(0.8,1)" d="M171.8,928.1 C175.5,928.5 179.3,929.4 183.1,929.4 C196.7,929.4 210.7,928.2 224.2,928.1 C244.6,928.0 265.5,929.1 285.9,929.0 C306.3,928.9 327.3,928.1 347.6,927.3 C361.2,926.7 375.2,925.7 388.8,924.8 C402.3,923.9 416.3,922.6 429.9,921.9 C436.4,921.6 443.1,922.0 449.6,921.6 C461.9,920.9 474.4,919.6 486.6,918.6 C497.2,917.7 508.2,916.9 518.8,916.0 C522.8,915.6 527.2,916.0 531.1,914.7 C533.6,913.9 536.2,912.1 537.2,909.7 C538.8,906.1 538.3,901.8 538.5,897.9 C539.1,884.9 539.3,871.4 539.8,858.4 C540.1,848.6 540.3,838.6 541.0,828.8 C541.5,822.3 542.0,815.5 543.4,809.1 C544.0,806.3 545.6,803.6 547.1,801.2 C547.7,800.3 548.8,799.9 549.6,799.2" fill="none" stroke="#00b050" stroke-width="3.6" stroke-linejoin="round" stroke-linecap="round"/>
<path transform="scale(0.8,1)" d="M714.5,901.8 C732.2,902.1 750.3,902.6 768.0,902.6 C781.6,902.6 795.6,902.3 809.1,901.8 C829.5,901.0 850.5,899.3 870.9,898.5 C891.2,897.7 912.2,897.4 932.5,896.9 C946.1,896.6 960.1,896.0 973.8,896.0 C981.8,896.0 990.2,895.8 998.2,896.7 C1003.6,897.3 1008.9,899.4 1014.1,900.7 C1019.4,902.0 1024.6,904.3 1030.0,904.7 C1031.5,904.8 1033.3,903.7 1034.0,902.3 C1036.1,897.9 1036.9,892.8 1038.0,888.0 C1039.5,881.7 1040.7,875.2 1041.9,868.9 C1043.3,861.6 1044.4,854.0 1045.9,846.7 C1047.0,840.9 1047.8,834.7 1049.9,829.2 C1050.8,826.7 1052.3,823.6 1054.9,822.9 C1059.6,821.6 1064.8,823.4 1069.7,823.7" fill="none" stroke="#00b050" stroke-width="3.6" stroke-linejoin="round" stroke-linecap="round"/>
<path transform="scale(0.8,1)" d="M1258.6,909.3 C1280.2,909.4 1302.4,909.8 1324.0,909.7 C1348.4,909.6 1373.6,909.3 1398.0,908.7 C1414.3,908.3 1431.1,908.1 1447.4,906.8 C1459.7,905.8 1472.3,904.3 1484.4,901.8 C1492.7,900.1 1501.0,896.8 1509.0,893.9 C1517.3,890.9 1527.0,889.7 1533.8,884.1 C1537.6,880.9 1537.3,874.6 1538.2,869.7 C1540.8,856.6 1542.3,842.9 1544.2,829.7 C1546.2,816.5 1548.2,802.8 1550.1,789.6 C1551.6,779.5 1552.7,769.0 1554.5,758.9 C1555.6,753.0 1556.7,746.8 1559.0,741.3 C1559.7,739.5 1561.4,737.0 1563.4,737.2 C1565.6,737.5 1566.9,740.3 1567.8,742.4 C1568.9,745.0 1568.8,748.0 1569.2,750.7" fill="none" stroke="#00b050" stroke-width="3.6" stroke-linejoin="round" stroke-linecap="round"/>
<path transform="scale(0.8,1)" d="M171.8,916.3 C182.3,916.9 193.1,917.7 203.6,918.2 C217.2,918.8 231.2,919.6 244.8,919.6 C258.3,919.6 272.3,919.1 285.9,918.2 C299.5,917.3 313.6,915.8 327.1,914.1 C337.4,912.8 347.8,910.5 358.0,909.2 C368.1,907.9 378.6,906.8 388.8,906.4 C395.6,906.1 402.6,906.1 409.4,907.1 C414.3,907.8 419.1,910.0 423.8,911.7 C428.3,913.4 432.8,915.8 437.4,917.6 C440.2,918.7 443.1,921.4 446.0,920.6 C448.9,919.8 450.4,916.2 452.1,913.7 C454.1,910.6 455.8,907.2 457.1,903.8 C459.1,898.7 460.5,893.3 462.0,888.0 C463.8,881.5 465.6,874.9 467.0,868.3 C468.8,859.9 470.2,851.1 471.9,842.6 C473.4,834.8 475.2,826.7 476.7,818.9 C477.6,814.4 478.4,809.6 479.2,805.1 C480.1,800.6 481.1,796.0 482.0,791.5" fill="none" stroke="#ffc000" stroke-width="3.6" stroke-linejoin="round" stroke-linecap="round"/>
<path transform="scale(0.8,1)" d="M714.5,875.1 C732.2,873.3 750.3,871.4 768.0,869.7 C788.3,867.7 809.3,865.8 829.6,863.9 C850.0,862.0 871.0,860.3 891.4,858.2 C905.0,856.8 919.0,855.4 932.5,853.2 C939.4,852.1 946.3,850.0 953.1,848.3 C957.9,847.1 962.7,845.3 967.5,844.7 C970.9,844.3 974.5,844.2 977.8,845.0 C981.4,845.9 984.4,850.6 988.1,850.0 C991.1,849.5 992.3,845.3 993.2,842.5 C995.7,835.1 996.8,827.1 998.4,819.5 C999.7,813.1 1000.7,806.5 1001.7,800.0 C1002.9,792.7 1003.7,785.1 1004.9,777.8 C1006.3,769.5 1007.9,761.0 1009.6,752.8 C1011.0,746.1 1012.1,739.2 1014.2,732.7 C1015.7,728.3 1017.7,723.9 1020.5,720.2 C1022.0,718.3 1024.7,717.7 1026.8,716.5" fill="none" stroke="#ffc000" stroke-width="3.6" stroke-linejoin="round" stroke-linecap="round"/>
<path transform="scale(0.8,1)" d="M1258.6,853.5 C1280.2,852.2 1302.4,851.0 1324.0,849.5 C1344.4,848.1 1365.3,846.4 1385.6,844.6 C1397.9,843.5 1410.4,842.3 1422.6,840.7 C1430.8,839.7 1439.4,838.8 1447.4,836.7 C1453.3,835.2 1459.3,832.8 1464.6,829.8 C1469.9,826.9 1474.9,823.0 1479.4,818.9 C1483.9,814.8 1487.5,809.5 1491.8,805.1 C1494.1,802.7 1496.0,799.4 1499.1,798.2 C1502.6,796.9 1507.5,800.6 1510.2,798.2 C1513.6,795.3 1513.0,789.7 1514.0,785.4 C1515.2,780.4 1515.7,775.0 1516.9,770.0 C1517.7,766.6 1519.4,763.4 1520.0,760.0 C1522.2,746.4 1523.4,732.2 1525.4,718.6 C1526.6,710.0 1528.5,701.3 1529.7,692.7 C1531.0,684.1 1531.8,675.3 1533.0,666.7 C1534.0,659.8 1534.8,652.7 1536.2,645.9 C1536.9,642.5 1538.3,639.2 1539.4,636.0 C1540.1,633.8 1541.0,631.6 1541.9,629.5" fill="none" stroke="#ffc000" stroke-width="3.6" stroke-linejoin="round" stroke-linecap="round"/>
<path transform="scale(0.8,1)" d="M171.8,843.4 C182.3,845.8 193.1,848.6 203.6,850.8 C213.8,852.9 224.3,854.7 234.5,856.5 C242.7,857.9 251.2,858.7 259.2,860.6 C264.8,861.9 270.5,863.9 275.6,866.4 C280.7,868.8 285.3,872.4 290.0,875.5 C294.8,878.7 299.3,882.7 304.5,885.3 C310.3,888.2 316.6,890.9 323.0,891.9 C327.7,892.7 332.8,891.8 337.4,890.6 C343.3,889.0 348.9,886.1 354.4,883.4 C359.1,881.0 364.6,879.0 368.2,875.1 C371.8,871.4 373.5,866.0 375.2,861.2 C377.5,854.9 379.1,848.2 380.5,841.7 C382.0,834.4 383.2,826.9 384.0,819.5 C384.9,810.4 385.2,800.9 385.6,791.7 C386.2,781.2 386.7,770.5 387.0,760.0 C387.4,746.8 387.7,733.2 388.0,720.0 C388.2,709.7 388.3,699.0 388.5,688.7 C388.8,673.0 389.0,656.8 389.6,641.1 C390.0,630.8 390.7,620.3 391.5,610.0 C392.0,603.4 392.8,596.6 393.6,590.0 C394.8,580.6 395.8,571.0 397.6,561.7 C399.1,554.3 401.6,546.8 403.6,539.5" fill="none" stroke="#ff0000" stroke-width="3.6" stroke-linejoin="round" stroke-linecap="round"/>
<path transform="scale(0.8,1)" d="M714.5,832.3 C725.3,833.0 736.5,833.8 747.4,834.3 C760.9,834.9 774.9,835.5 788.5,835.6 C803.4,835.7 818.8,834.6 833.8,835.1 C839.3,835.3 844.8,836.7 850.2,837.6 C857.1,838.7 864.0,841.1 870.9,840.9 C875.8,840.8 880.9,839.2 885.2,836.8 C890.0,834.2 894.3,830.3 897.6,826.1 C901.9,820.7 905.7,814.5 907.9,808.0 C911.2,798.4 912.7,787.9 914.1,777.8 C915.8,765.5 916.5,752.7 917.2,740.3 C918.3,723.8 918.8,706.7 919.5,690.2 C920.2,673.7 920.7,656.6 921.4,640.1 C922.0,623.6 923.0,606.5 923.5,590.0 C924.2,568.1 924.3,545.5 925.1,523.6 C925.5,514.1 926.3,504.3 927.0,494.8 C927.7,485.9 928.4,476.7 929.4,467.8 C930.0,461.4 930.9,454.9 931.9,448.6 C932.9,442.2 934.1,435.6 935.4,429.3 C936.6,423.6 938.1,417.7 939.5,412.0" fill="none" stroke="#ff0000" stroke-width="3.6" stroke-linejoin="round" stroke-linecap="round"/>
<path transform="scale(0.8,1)" d="M1258.6,776.5 C1268.0,779.4 1277.6,782.4 1287.0,785.4 C1299.2,789.3 1311.7,793.7 1324.0,797.2 C1336.1,800.6 1348.9,802.9 1361.0,806.1 C1366.0,807.4 1371.3,808.5 1375.9,811.0 C1380.4,813.5 1384.6,817.1 1388.1,820.9 C1391.9,825.0 1395.2,829.9 1398.0,834.7 C1401.7,841.0 1404.1,848.3 1407.9,854.5 C1411.4,860.4 1415.3,866.4 1420.2,871.2 C1422.9,873.8 1426.5,876.4 1430.1,876.2 C1433.9,876.0 1437.7,873.3 1440.0,870.3 C1442.9,866.4 1444.0,861.2 1444.9,856.4 C1446.0,850.7 1445.8,844.5 1446.1,838.7 C1446.6,828.9 1447.0,818.9 1447.4,809.1 C1447.8,796.1 1448.3,782.6 1448.6,769.6 C1448.9,759.8 1449.0,749.8 1449.2,740.0 C1449.7,721.1 1450.1,701.5 1450.5,682.6 C1451.2,650.2 1451.8,616.9 1452.4,584.5 C1453.0,552.1 1453.1,518.7 1454.2,486.3 C1455.1,462.0 1456.5,436.9 1458.5,412.7 C1459.9,396.4 1462.0,379.7 1464.6,363.6 C1466.4,352.5 1469.6,341.2 1472.0,330.2" fill="none" stroke="#ff0000" stroke-width="3.6" stroke-linejoin="round" stroke-linecap="round"/>
<path d="M137.4,845 L302.8,887 L320.8,534" fill="none" stroke="#222" stroke-width="0.9" stroke-dasharray="4 3" opacity="0.75"/>
<path d="M137.4,920.2 L366,920.2 L386.5,789" fill="none" stroke="#222" stroke-width="0.9" stroke-dasharray="4 3" opacity="0.75"/>
<path d="M137.4,930.5 L431.8,921.2 L437,800" fill="none" stroke="#222" stroke-width="0.9" stroke-dasharray="4 3" opacity="0.75"/>
<path d="M571.6,830.2 L733,836.8 L744.1,414.9" fill="none" stroke="#222" stroke-width="0.9" stroke-dasharray="4 3" opacity="0.75"/>
<path d="M571.6,875.5 L797,851.1 L813,716" fill="none" stroke="#222" stroke-width="0.9" stroke-dasharray="4 3" opacity="0.75"/>
<path d="M571.6,901 L832,897.5 L843,823" fill="none" stroke="#222" stroke-width="0.9" stroke-dasharray="4 3" opacity="0.75"/>
<path d="M1006.9,777 L1155.9,829.8 L1163.4,334.2" fill="none" stroke="#222" stroke-width="0.9" stroke-dasharray="4 3" opacity="0.75"/>
<path d="M1006.9,854.5 L1210.2,837.7 L1232,630" fill="none" stroke="#222" stroke-width="0.9" stroke-dasharray="4 3" opacity="0.75"/>
<path d="M1006.9,909 L1228.9,902.8 L1249,738" fill="none" stroke="#222" stroke-width="0.9" stroke-dasharray="4 3" opacity="0.75"/>
<path d="M1310,937 L1311,912" fill="none" stroke="#222" stroke-width="0.9" stroke-dasharray="4 3" opacity="0.75"/>
<path d="M506,937 L507.5,905" fill="none" stroke="#222" stroke-width="0.9" stroke-dasharray="4 3" opacity="0.75"/>
<path d="M898,937 L900,915" fill="none" stroke="#222" stroke-width="0.9" stroke-dasharray="4 3" opacity="0.75"/>
<text x="12.08" y="243.70" font-size="20.5" textLength="350.66" lengthAdjust="spacingAndGlyphs">Nanochannel template with a gold film</text>
<text x="399.28" y="241.30" font-size="20.5" textLength="317.10" lengthAdjust="spacingAndGlyphs">Nucleation of metals on a gold film</text>
<text x="752.58" y="243.90" font-size="20.5" textLength="342.16" lengthAdjust="spacingAndGlyphs">1D growth of electrodeposited metals</text>
<text x="1115.88" y="243.40" font-size="20.5" textLength="384.75" lengthAdjust="spacingAndGlyphs">Filling up of the nanochannels with metals</text>
<text x="1134.89" y="268.00" font-size="20.5" textLength="348.23" lengthAdjust="spacingAndGlyphs">(2D growth at the surface of template)</text>
<text x="104.90" y="946.00" font-size="23">0</text>
<text x="104.90" y="873.44" font-size="23">2</text>
<text x="104.90" y="800.88" font-size="23">4</text>
<text x="104.90" y="728.32" font-size="23">6</text>
<text x="104.90" y="655.76" font-size="23">8</text>
<text x="92.99" y="583.20" font-size="23" textLength="24.48" lengthAdjust="spacingAndGlyphs">10</text>
<text x="92.90" y="510.64" font-size="23" textLength="25.59" lengthAdjust="spacingAndGlyphs">12</text>
<text x="92.99" y="438.08" font-size="23" textLength="24.48" lengthAdjust="spacingAndGlyphs">14</text>
<text x="92.99" y="365.52" font-size="23" textLength="24.48" lengthAdjust="spacingAndGlyphs">16</text>
<text x="92.99" y="292.96" font-size="23" textLength="24.48" lengthAdjust="spacingAndGlyphs">18</text>
<text x="127.70" y="973.40" font-size="23" textLength="9.60" lengthAdjust="spacingAndGlyphs">1</text>
<text x="208.07" y="973.40" font-size="23" textLength="24.70" lengthAdjust="spacingAndGlyphs">10</text>
<text x="288.38" y="973.40" font-size="23" textLength="36.84" lengthAdjust="spacingAndGlyphs">100</text>
<text x="366.67" y="973.40" font-size="23" textLength="52.64" lengthAdjust="spacingAndGlyphs">1,000</text>
<text x="446.60" y="973.40" font-size="23" textLength="66.89" lengthAdjust="spacingAndGlyphs">10,000</text>
<text x="562.40" y="973.40" font-size="23" textLength="9.60" lengthAdjust="spacingAndGlyphs">1</text>
<text x="642.77" y="973.40" font-size="23" textLength="24.70" lengthAdjust="spacingAndGlyphs">10</text>
<text x="723.08" y="973.40" font-size="23" textLength="36.84" lengthAdjust="spacingAndGlyphs">100</text>
<text x="801.37" y="973.40" font-size="23" textLength="52.64" lengthAdjust="spacingAndGlyphs">1,000</text>
<text x="881.30" y="973.40" font-size="23" textLength="66.89" lengthAdjust="spacingAndGlyphs">10,000</text>
<text x="997.10" y="973.40" font-size="23" textLength="9.60" lengthAdjust="spacingAndGlyphs">1</text>
<text x="1077.47" y="973.40" font-size="23" textLength="24.70" lengthAdjust="spacingAndGlyphs">10</text>
<text x="1157.78" y="973.40" font-size="23" textLength="36.84" lengthAdjust="spacingAndGlyphs">100</text>
<text x="1236.07" y="973.40" font-size="23" textLength="52.64" lengthAdjust="spacingAndGlyphs">1,000</text>
<text x="1316.00" y="973.40" font-size="23" textLength="66.89" lengthAdjust="spacingAndGlyphs">10,000</text>
<text x="151.49" y="327.10" font-size="26" font-style="italic" textLength="19.18" lengthAdjust="spacingAndGlyphs">E</text>
<text x="175.32" y="327.10" font-size="26" textLength="14.84" lengthAdjust="spacingAndGlyphs">=</text>
<text x="199.03" y="327.10" font-size="26" textLength="63.95" lengthAdjust="spacingAndGlyphs">−0.75</text>
<text x="272.70" y="327.10" font-size="26" textLength="17.24" lengthAdjust="spacingAndGlyphs">V</text>
<text x="586.29" y="327.10" font-size="26" font-style="italic" textLength="19.18" lengthAdjust="spacingAndGlyphs">E</text>
<text x="610.12" y="327.10" font-size="26" textLength="14.84" lengthAdjust="spacingAndGlyphs">=</text>
<text x="633.83" y="327.10" font-size="26" textLength="63.95" lengthAdjust="spacingAndGlyphs">−0.80</text>
<text x="707.50" y="327.10" font-size="26" textLength="17.24" lengthAdjust="spacingAndGlyphs">V</text>
<text x="1018.09" y="327.10" font-size="26" font-style="italic" textLength="19.18" lengthAdjust="spacingAndGlyphs">E</text>
<text x="1041.92" y="327.10" font-size="26" textLength="14.84" lengthAdjust="spacingAndGlyphs">=</text>
<text x="1065.63" y="327.10" font-size="26" textLength="63.95" lengthAdjust="spacingAndGlyphs">−0.85</text>
<text x="1139.30" y="327.10" font-size="26" textLength="17.24" lengthAdjust="spacingAndGlyphs">V</text>
<text x="295.04" y="520.50" font-size="27.5" textLength="29.50" lengthAdjust="spacingAndGlyphs">80</text>
<text x="322.96" y="517.30" font-size="27.5" textLength="12.89" lengthAdjust="spacingAndGlyphs">°</text>
<text x="333.04" y="520.50" font-size="27.5" textLength="19.10" lengthAdjust="spacingAndGlyphs">C</text>
<text x="351.84" y="769.20" font-size="27.5" textLength="29.50" lengthAdjust="spacingAndGlyphs">60</text>
<text x="379.76" y="766.00" font-size="27.5" textLength="12.89" lengthAdjust="spacingAndGlyphs">°</text>
<text x="389.84" y="769.20" font-size="27.5" textLength="19.10" lengthAdjust="spacingAndGlyphs">C</text>
<text x="416.04" y="781.40" font-size="27.5" textLength="29.50" lengthAdjust="spacingAndGlyphs">40</text>
<text x="443.96" y="778.20" font-size="27.5" textLength="12.89" lengthAdjust="spacingAndGlyphs">°</text>
<text x="454.04" y="781.40" font-size="27.5" textLength="19.10" lengthAdjust="spacingAndGlyphs">C</text>
<text x="487.04" y="864.30" font-size="27.5" textLength="29.50" lengthAdjust="spacingAndGlyphs">20</text>
<text x="514.96" y="861.10" font-size="27.5" textLength="12.89" lengthAdjust="spacingAndGlyphs">°</text>
<text x="525.04" y="864.30" font-size="27.5" textLength="19.10" lengthAdjust="spacingAndGlyphs">C</text>
<text x="719.04" y="396.20" font-size="27.5" textLength="29.50" lengthAdjust="spacingAndGlyphs">80</text>
<text x="746.96" y="393.00" font-size="27.5" textLength="12.89" lengthAdjust="spacingAndGlyphs">°</text>
<text x="757.04" y="396.20" font-size="27.5" textLength="19.10" lengthAdjust="spacingAndGlyphs">C</text>
<text x="791.64" y="698.20" font-size="27.5" textLength="29.50" lengthAdjust="spacingAndGlyphs">60</text>
<text x="819.56" y="695.00" font-size="27.5" textLength="12.89" lengthAdjust="spacingAndGlyphs">°</text>
<text x="829.64" y="698.20" font-size="27.5" textLength="19.10" lengthAdjust="spacingAndGlyphs">C</text>
<text x="836.54" y="805.40" font-size="27.5" textLength="29.50" lengthAdjust="spacingAndGlyphs">40</text>
<text x="864.46" y="802.20" font-size="27.5" textLength="12.89" lengthAdjust="spacingAndGlyphs">°</text>
<text x="874.54" y="805.40" font-size="27.5" textLength="19.10" lengthAdjust="spacingAndGlyphs">C</text>
<text x="891.34" y="884.80" font-size="27.5" textLength="29.50" lengthAdjust="spacingAndGlyphs">20</text>
<text x="919.26" y="881.60" font-size="27.5" textLength="12.89" lengthAdjust="spacingAndGlyphs">°</text>
<text x="929.34" y="884.80" font-size="27.5" textLength="19.10" lengthAdjust="spacingAndGlyphs">C</text>
<text x="1182.04" y="323.60" font-size="27.5" textLength="29.50" lengthAdjust="spacingAndGlyphs">80</text>
<text x="1209.96" y="320.40" font-size="27.5" textLength="12.89" lengthAdjust="spacingAndGlyphs">°</text>
<text x="1220.04" y="323.60" font-size="27.5" textLength="19.10" lengthAdjust="spacingAndGlyphs">C</text>
<text x="1202.04" y="612.90" font-size="27.5" textLength="29.50" lengthAdjust="spacingAndGlyphs">60</text>
<text x="1229.96" y="609.70" font-size="27.5" textLength="12.89" lengthAdjust="spacingAndGlyphs">°</text>
<text x="1240.04" y="612.90" font-size="27.5" textLength="19.10" lengthAdjust="spacingAndGlyphs">C</text>
<text x="1244.14" y="720.00" font-size="27.5" textLength="29.50" lengthAdjust="spacingAndGlyphs">40</text>
<text x="1272.06" y="716.80" font-size="27.5" textLength="12.89" lengthAdjust="spacingAndGlyphs">°</text>
<text x="1282.14" y="720.00" font-size="27.5" textLength="19.10" lengthAdjust="spacingAndGlyphs">C</text>
<text x="1293.34" y="856.80" font-size="27.5" textLength="29.50" lengthAdjust="spacingAndGlyphs">20</text>
<text x="1321.26" y="853.60" font-size="27.5" textLength="12.89" lengthAdjust="spacingAndGlyphs">°</text>
<text x="1331.34" y="856.80" font-size="27.5" textLength="19.10" lengthAdjust="spacingAndGlyphs">C</text>
<text x="258.80" y="852.40" font-size="24.5" font-family="'DejaVu Sans', sans-serif" font-style="italic">t</text>
<text x="264.50" y="857.40" font-size="17" font-family="'DejaVu Sans', sans-serif" font-weight="200" textLength="22.72" lengthAdjust="spacingAndGlyphs">80</text>
<text x="331.30" y="896.90" font-size="24.5" font-family="'DejaVu Sans', sans-serif" font-style="italic">t</text>
<text x="337.00" y="901.90" font-size="17" font-family="'DejaVu Sans', sans-serif" font-weight="200" textLength="22.72" lengthAdjust="spacingAndGlyphs">60</text>
<text x="392.30" y="903.80" font-size="24.5" font-family="'DejaVu Sans', sans-serif" font-style="italic">t</text>
<text x="399.11" y="908.80" font-size="17" font-family="'DejaVu Sans', sans-serif" font-weight="200" textLength="21.53" lengthAdjust="spacingAndGlyphs">40</text>
<text x="474.20" y="920.60" font-size="24.5" font-family="'DejaVu Sans', sans-serif" font-style="italic">t</text>
<text x="481.01" y="925.60" font-size="17" font-family="'DejaVu Sans', sans-serif" font-weight="200" textLength="21.53" lengthAdjust="spacingAndGlyphs">20</text>
<text x="686.10" y="800.60" font-size="24.5" font-family="'DejaVu Sans', sans-serif" font-style="italic">t</text>
<text x="691.80" y="805.60" font-size="17" font-family="'DejaVu Sans', sans-serif" font-weight="200" textLength="22.72" lengthAdjust="spacingAndGlyphs">80</text>
<text x="763.50" y="825.30" font-size="24.5" font-family="'DejaVu Sans', sans-serif" font-style="italic">t</text>
<text x="769.20" y="830.30" font-size="17" font-family="'DejaVu Sans', sans-serif" font-weight="200" textLength="22.72" lengthAdjust="spacingAndGlyphs">60</text>
<text x="802.10" y="876.90" font-size="24.5" font-family="'DejaVu Sans', sans-serif" font-style="italic">t</text>
<text x="808.91" y="881.90" font-size="17" font-family="'DejaVu Sans', sans-serif" font-weight="200" textLength="21.53" lengthAdjust="spacingAndGlyphs">40</text>
<text x="869.70" y="911.10" font-size="24.5" font-family="'DejaVu Sans', sans-serif" font-style="italic">t</text>
<text x="876.51" y="916.10" font-size="17" font-family="'DejaVu Sans', sans-serif" font-weight="200" textLength="21.53" lengthAdjust="spacingAndGlyphs">20</text>
<text x="1113.50" y="789.10" font-size="24.5" font-family="'DejaVu Sans', sans-serif" font-style="italic">t</text>
<text x="1119.20" y="794.10" font-size="17" font-family="'DejaVu Sans', sans-serif" font-weight="200" textLength="22.72" lengthAdjust="spacingAndGlyphs">80</text>
<text x="1176.60" y="782.20" font-size="24.5" font-family="'DejaVu Sans', sans-serif" font-style="italic">t</text>
<text x="1182.30" y="787.20" font-size="17" font-family="'DejaVu Sans', sans-serif" font-weight="200" textLength="22.72" lengthAdjust="spacingAndGlyphs">60</text>
<text x="1190.40" y="877.90" font-size="24.5" font-family="'DejaVu Sans', sans-serif" font-style="italic">t</text>
<text x="1197.21" y="882.90" font-size="17" font-family="'DejaVu Sans', sans-serif" font-weight="200" textLength="21.53" lengthAdjust="spacingAndGlyphs">40</text>
<text x="1278.20" y="909.60" font-size="24.5" font-family="'DejaVu Sans', sans-serif" font-style="italic">t</text>
<text x="1285.01" y="914.60" font-size="17" font-family="'DejaVu Sans', sans-serif" font-weight="200" textLength="21.53" lengthAdjust="spacingAndGlyphs">20</text>
<text x="609.54" y="1015.50" font-size="27" textLength="288.37" lengthAdjust="spacingAndGlyphs">Electrodeposition Time,</text>
<text x="909.14" y="1015.50" font-size="27" font-style="italic" textLength="17.38" lengthAdjust="spacingAndGlyphs">T</text>
<text x="934.20" y="1015.50" font-size="27">/</text>
<text x="955.52" y="1015.50" font-size="27" textLength="11.93" lengthAdjust="spacingAndGlyphs">s</text>
<text transform="translate(84.0,768.0) rotate(-90)" x="-1.06" y="0" font-size="27" textLength="211.52" lengthAdjust="spacingAndGlyphs">Cathode Current</text>
<text transform="translate(84.0,768.0) rotate(-90)" x="210.07" y="0" font-size="27" textLength="9.52" lengthAdjust="spacingAndGlyphs">,</text>
<text transform="translate(84.0,768.0) rotate(-90)" x="227.20" y="0" font-size="27" font-family="'Liberation Serif', sans-serif" font-style="italic" font-weight="bold" textLength="11.47" lengthAdjust="spacingAndGlyphs">I</text>
<text transform="translate(84.0,768.0) rotate(-90)" x="244.60" y="0" font-size="27">/</text>
<text transform="translate(84.0,768.0) rotate(-90)" x="264.99" y="0" font-size="27" textLength="40.61" lengthAdjust="spacingAndGlyphs">mA</text>
</svg>
</body></html>
